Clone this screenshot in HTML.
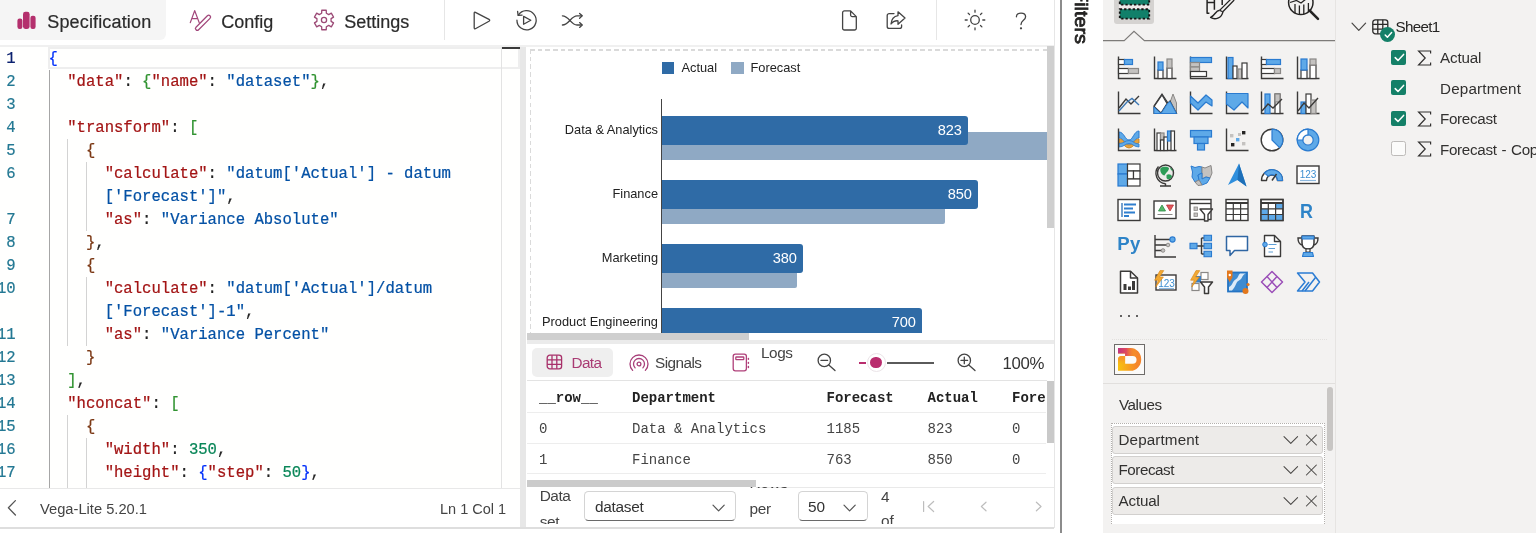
<!DOCTYPE html>
<html>
<head>
<meta charset="utf-8">
<title>Deneb editor</title>
<style>
*{box-sizing:border-box;margin:0;padding:0}
html,body{width:1536px;height:533px;overflow:hidden;background:#fff;font-family:"Liberation Sans",sans-serif;color:#252423}
.abs{position:absolute}
#root{position:relative;width:1536px;height:533px;overflow:hidden;background:#fff;will-change:transform}
.t{position:absolute;white-space:nowrap;line-height:1}
.ui{font-family:"Liberation Sans",sans-serif;color:#3b3a39}
.mono{font-family:"Liberation Mono",monospace}
svg{position:absolute;overflow:visible}
/* editor */
.ln{-webkit-text-stroke:0.2px;position:absolute;right:505.3px;text-align:right;font-family:"Liberation Mono",monospace;font-size:15.6px;line-height:23px;color:#237893;white-space:pre}
.cl{-webkit-text-stroke:0.22px;position:absolute;left:48.5px;font-family:"Liberation Mono",monospace;font-size:15.6px;line-height:23px;color:#222;white-space:pre}
.k{color:#a31515}.s{color:#0451a5}.n{color:#098658}.b1{color:#0431fa}.b2{color:#319331}.b3{color:#7b3814}
.guide{position:absolute;width:1px;background:#d3d3d3}
</style>
</head>
<body>
<div id="root">

<!-- ===== TOP TOOLBAR ===== -->
<div class="abs" style="left:0;top:0;width:166px;height:40px;background:#f5f5f5;border-radius:0 0 6px 0"></div>
<div class="abs" style="left:0;top:45px;width:1054px;height:2px;background:#f0f0f0"></div>
<div class="abs" style="left:444px;top:0;width:1px;height:40px;background:#e6e6e6"></div>
<div class="abs" style="left:936px;top:0;width:1px;height:40px;background:#e6e6e6"></div>
<!-- bar icon -->
<svg style="left:17px;top:11px" width="20" height="19" viewBox="0 0 20 19"><rect x="0.4" y="7.6" width="5" height="10.4" rx="2.2" fill="#b4306d"/><rect x="6" y="0.8" width="6.6" height="17.2" rx="2.4" fill="#b4306d"/><rect x="13.4" y="4.8" width="5.2" height="13.2" rx="2.2" fill="#b4306d"/></svg>
<div class="t ui" style="left:47.3px;top:13.2px;font-size:18px;letter-spacing:0.15px;color:#2b2b2b;-webkit-text-stroke:0.2px #2b2b2b" id="tSpec">Specification</div>
<div class="t ui" style="left:221.3px;top:13.2px;font-size:18px;color:#2b2b2b;-webkit-text-stroke:0.2px" id="tConf">Config</div>
<div class="t ui" style="left:344.3px;top:13.2px;font-size:18px;color:#2b2b2b;-webkit-text-stroke:0.2px" id="tSett">Settings</div>


<!-- config icon -->
<svg style="left:188px;top:8px" width="26" height="24" viewBox="0 0 26 24" fill="none" stroke="#a1467a" stroke-width="1.25" stroke-linecap="round" stroke-linejoin="round"><path d="M2.3 14.6 L6.7 2.6 L11.2 14.6 M3.9 10.6 L9.6 10.6"/><rect x="-9.9" y="-1.85" width="19.8" height="3.7" rx="1.85" transform="translate(15 14.8) rotate(-45)"/></svg>
<!-- gear icon -->
<svg style="left:313px;top:9.2px" width="22" height="22" viewBox="0 0 22 22" fill="none" stroke="#9c4a76" stroke-width="1.3" stroke-linejoin="round"><path d="M13.34 4.19 L13.25 1.26 L8.75 1.26 L8.66 4.19 L6.28 5.57 L3.69 4.18 L1.44 8.08 L3.93 9.63 L3.93 12.37 L1.44 13.92 L3.69 17.82 L6.28 16.43 L8.66 17.81 L8.75 20.74 L13.25 20.74 L13.34 17.81 L15.72 16.43 L18.31 17.82 L20.56 13.92 L18.07 12.37 L18.07 9.63 L20.56 8.08 L18.31 4.18 L15.72 5.57Z" stroke-width="1.3"/><circle cx="11" cy="11" r="2.6"/></svg>
<!-- play -->
<svg style="left:472px;top:10px" width="20" height="21" viewBox="0 0 20 21" fill="none" stroke="#444" stroke-width="1.3" stroke-linejoin="round"><path d="M3.4 2.3 L17 9.4 Q18.4 10.3 17 11.200 L3.400 18.700 Q2.2 19.100 2.2 17.800 L2.200 3.200 Q2.200 1.900 3.400 2.300 Z"/></svg>
<!-- replay -->
<svg style="left:515px;top:9px" width="24" height="23" viewBox="0 0 24 23" fill="none" stroke="#444" stroke-width="1.3" stroke-linecap="round" stroke-linejoin="round"><path d="M3.4 6.2 A9.6 9.6 0 1 1 1.95 11.2"/><path d="M2.6 2.4 L3.1 6.4 L7.1 6.1"/><path d="M8.6 7.4 L15.8 11.2 L8.6 15.2 Z"/></svg>
<!-- shuffle -->
<svg style="left:561px;top:11px" width="24" height="18" viewBox="0 0 24 18" fill="none" stroke="#444" stroke-width="1.3" stroke-linecap="round" stroke-linejoin="round"><path d="M1.4 4.8 C8 4.8 10 14 16 14 L20.8 14 M1.4 14 C8 14 10 4.8 16 4.8 L20.8 4.8"/><path d="M18.6 2.4 L21.2 4.8 L18.6 7.2 M18.6 11.600 L21.2 14 L18.6 16.400"/></svg>
<!-- doc -->
<svg style="left:841px;top:9px" width="18" height="23" viewBox="0 0 18 23" fill="none" stroke="#444" stroke-width="1.3" stroke-linejoin="round"><path d="M3.4 1.9 H9.6 L15.3 7.6 V19.2 a1.8 1.8 0 0 1 -1.8 1.8 H3.4 a1.8 1.8 0 0 1 -1.8 -1.8 V3.7 a1.8 1.8 0 0 1 1.8 -1.8 Z M9.6 1.9 V6 a1.6 1.6 0 0 0 1.6 1.6 H15.3"/></svg>
<!-- share -->
<svg style="left:885px;top:10px" width="23" height="21" viewBox="0 0 23 21" fill="none" stroke="#444" stroke-width="1.3" stroke-linecap="round" stroke-linejoin="round"><path d="M9 3.6 H4.2 a2 2 0 0 0 -2 2 V16.4 a2 2 0 0 0 2 2 H14.6 a2 2 0 0 0 2 -2 V15"/><path d="M13 1.8 L20 8 L13 14.2 V10.8 C10 10.6 7.6 11.6 6 14 C6.4 9.4 9 6.2 13 5.6 Z"/></svg>
<!-- sun -->
<svg style="left:963.7px;top:9.2px" width="22" height="22" viewBox="0 0 22 22" fill="none" stroke="#444" stroke-width="1.3" stroke-linecap="round"><circle cx="11" cy="11" r="4.3"/><path d="M11 1.2 V3.2 M11 18.8 V20.8 M1.2 11 H3.2 M18.8 11 H20.8 M4.1 4.1 L5.5 5.5 M16.5 16.5 L17.9 17.9 M4.1 17.9 L5.5 16.5 M16.5 5.5 L17.9 4.1"/></svg>
<!-- help -->
<svg style="left:1014px;top:11px" width="14" height="20" viewBox="0 0 14 20" fill="none" stroke="#444" stroke-width="1.3" stroke-linecap="round"><path d="M2.4 5.8 C2.4 1 11.6 1 11.6 5.8 C11.6 9.4 7 9.4 7 13.6"/><circle cx="7" cy="17.3" r="0.5" fill="#444"/></svg>

<!-- ===== EDITOR ===== -->
<div id="editor" class="abs" style="left:0;top:47px;width:521px;height:441px;overflow:hidden;background:#fffffe">
<!-- active line box -->
<div class="abs" style="left:48px;top:0px;width:472px;height:22px;border:2px solid #eeeeee"></div>
<!-- indent guides -->
<div class="guide" style="left:49px;top:22.5px;height:430px;background:#a6a6a6"></div>
<div class="guide" style="left:67px;top:91.5px;height:207px"></div>
<div class="guide" style="left:86px;top:114.5px;height:69px"></div>
<div class="guide" style="left:86px;top:229.5px;height:69px"></div>
<div class="guide" style="left:67px;top:367.5px;height:80px"></div>
<div class="guide" style="left:86px;top:390.5px;height:60px"></div>
<!-- overview ruler -->
<div class="abs" style="left:501px;top:0;width:1px;height:443px;background:#e3e3e3"></div>
<div class="abs" style="left:502px;top:-1px;width:18px;height:3px;background:#3a3a3a"></div>
<div class="ln" style="top:1.0px;color:#0b216f">1</div>
<div class="cl" style="top:1.0px"><span class="b1">{</span></div>
<div class="ln" style="top:24.0px">2</div>
<div class="cl" style="top:24.0px">  <span class="k">"data"</span>: <span class="b2">{</span><span class="k">"name"</span>: <span class="s">"dataset"</span><span class="b2">}</span>,</div>
<div class="ln" style="top:47.0px">3</div>
<div class="ln" style="top:70.0px">4</div>
<div class="cl" style="top:70.0px">  <span class="k">"transform"</span>: <span class="b2">[</span></div>
<div class="ln" style="top:93.0px">5</div>
<div class="cl" style="top:93.0px">    <span class="b3">{</span></div>
<div class="ln" style="top:116.0px">6</div>
<div class="cl" style="top:116.0px">      <span class="k">"calculate"</span>: <span class="s">"datum['Actual'] - datum</span></div>
<div class="cl" style="top:139.0px">      <span class="s">['Forecast']"</span>,</div>
<div class="ln" style="top:162.0px">7</div>
<div class="cl" style="top:162.0px">      <span class="k">"as"</span>: <span class="s">"Variance Absolute"</span></div>
<div class="ln" style="top:185.0px">8</div>
<div class="cl" style="top:185.0px">    <span class="b3">}</span>,</div>
<div class="ln" style="top:208.0px">9</div>
<div class="cl" style="top:208.0px">    <span class="b3">{</span></div>
<div class="ln" style="top:231.0px">10</div>
<div class="cl" style="top:231.0px">      <span class="k">"calculate"</span>: <span class="s">"datum['Actual']/datum</span></div>
<div class="cl" style="top:254.0px">      <span class="s">['Forecast']-1"</span>,</div>
<div class="ln" style="top:277.0px">11</div>
<div class="cl" style="top:277.0px">      <span class="k">"as"</span>: <span class="s">"Variance Percent"</span></div>
<div class="ln" style="top:300.0px">12</div>
<div class="cl" style="top:300.0px">    <span class="b3">}</span></div>
<div class="ln" style="top:323.0px">13</div>
<div class="cl" style="top:323.0px">  <span class="b2">]</span>,</div>
<div class="ln" style="top:346.0px">14</div>
<div class="cl" style="top:346.0px">  <span class="k">"hconcat"</span>: <span class="b2">[</span></div>
<div class="ln" style="top:369.0px">15</div>
<div class="cl" style="top:369.0px">    <span class="b3">{</span></div>
<div class="ln" style="top:392.0px">16</div>
<div class="cl" style="top:392.0px">      <span class="k">"width"</span>: <span class="n">350</span>,</div>
<div class="ln" style="top:415.0px">17</div>
<div class="cl" style="top:415.0px">      <span class="k">"height"</span>: <span class="b1">{</span><span class="k">"step"</span>: <span class="n">50</span><span class="b1">}</span>,</div>

</div>

<!-- ===== STATUS BAR ===== -->
<div class="abs" style="left:0;top:488px;width:521px;height:1px;background:#e8e8e8"></div>
<svg style="left:6px;top:499px" width="12" height="18" viewBox="0 0 12 18" fill="none" stroke="#555" stroke-width="1.3" stroke-linecap="round" stroke-linejoin="round"><path d="M9.4 1.6 L2.4 8.8 L9.4 16"/></svg>
<div class="t ui" style="left:40px;top:502px;font-size:14.7px;color:#444" id="tVega">Vega-Lite 5.20.1</div>
<div class="t ui" style="left:440px;top:502px;font-size:14.5px;color:#444" id="tLn">Ln 1 Col 1</div>
<div class="abs" style="left:0;top:527px;width:1054px;height:2px;background:#dedede"></div>


<!-- ===== SPLITTER ===== -->
<div class="abs" style="left:520px;top:47px;width:6.3px;height:480px;background:#e7e7e7"></div>

<!-- ===== PREVIEW ===== -->
<div id="preview" class="abs" style="left:526.5px;top:47px;width:520.5px;height:285.5px;overflow:hidden;background:#fff">
  <!-- coordinates inside are relative: subtract 526.5, 47 -->
  <div class="abs" style="left:3px;top:2px;width:600px;height:1.6px;background:repeating-linear-gradient(to right,#dadada 0 4.6px,transparent 4.6px 7.65px)"></div>
  <div class="abs" style="left:3px;top:2px;width:1.6px;height:400px;background:repeating-linear-gradient(to bottom,#dadada 0 4.6px,transparent 4.6px 7.65px)"></div>
  <!-- legend -->
  <div class="abs" style="left:135.2px;top:14.6px;width:12.8px;height:12.6px;background:#2f6ba6"></div>
  <div class="t" style="left:155px;top:14.7px;font-size:12.8px;color:#222" id="lgA">Actual</div>
  <div class="abs" style="left:204.5px;top:14.6px;width:12.8px;height:12.6px;background:#8fa9c4"></div>
  <div class="t" style="left:224px;top:14.7px;font-size:12.8px;color:#222" id="lgF">Forecast</div>
  <!-- forecast bars -->
  <div class="abs" style="left:135px;top:84.7px;width:440px;height:28px;background:#8fa9c4"></div>
  <div class="abs" style="left:135px;top:148.7px;width:283.5px;height:28px;background:#8fa9c4;border-radius:0 2px 2px 0"></div>
  <div class="abs" style="left:135px;top:212.7px;width:135.3px;height:28px;background:#8fa9c4;border-radius:0 2px 2px 0"></div>
  <!-- actual bars -->
  <div class="abs bar" style="left:135px;top:69px;width:306px;height:29px;background:#2f6ba6;border-radius:0 3px 3px 0"></div>
  <div class="abs bar" style="left:135px;top:133px;width:316px;height:29px;background:#2f6ba6;border-radius:0 3px 3px 0"></div>
  <div class="abs bar" style="left:135px;top:197px;width:141px;height:29px;background:#2f6ba6;border-radius:0 3px 3px 0"></div>
  <div class="abs bar" style="left:135px;top:261px;width:260px;height:29px;background:#2f6ba6;border-radius:0 3px 3px 0"></div>
  <!-- axis -->
  <div class="abs" style="left:134.5px;top:52px;width:1px;height:300px;background:#444"></div>
  <!-- y labels -->
  <div class="t" style="right:389px;top:77.1px;font-size:12.8px;color:#222">Data &amp; Analytics</div>
  <div class="t" style="right:389px;top:141.1px;font-size:12.8px;color:#222">Finance</div>
  <div class="t" style="right:389px;top:205.1px;font-size:12.8px;color:#222">Marketing</div>
  <div class="t" style="right:389px;top:269.1px;font-size:12.8px;color:#222">Product Engineering</div>
  <!-- value labels -->
  <div class="t" style="right:85px;top:75.5px;font-size:14.6px;color:#fff">823</div>
  <div class="t" style="right:75px;top:139.5px;font-size:14.6px;color:#fff">850</div>
  <div class="t" style="right:250px;top:203.5px;font-size:14.6px;color:#fff">380</div>
  <div class="t" style="right:131px;top:267.5px;font-size:14.6px;color:#fff">700</div>
</div>
<!-- preview scrollbars -->
<div class="abs" style="left:1047px;top:46px;width:6.5px;height:182px;background:#cfcfcf"></div>
<div class="abs" style="left:526.5px;top:332.5px;width:222px;height:7px;background:#cfcfcf"></div>
<div class="abs" style="left:526.5px;top:339.5px;width:527.5px;height:4.5px;background:#ebebeb"></div>

<!-- ===== DEBUG PANE ===== -->
<div class="abs" style="left:531.5px;top:348px;width:81px;height:29px;background:#efefef;border-radius:5px"></div>
<div class="t ui" style="left:571.5px;top:355px;font-size:15.3px;color:#a93b73;letter-spacing:-0.6px" id="tData">Data</div>
<div class="t ui" style="left:655px;top:355px;font-size:15.3px;color:#444;letter-spacing:-0.54px" id="tSig">Signals</div>
<div class="t ui" style="left:761px;top:345.3px;font-size:15.3px;color:#444;letter-spacing:-0.42px" id="tLogs">Logs</div>
<div class="t ui" style="left:1002.5px;top:356px;font-size:16.8px;color:#333;letter-spacing:-0.3px" id="tPct">100%</div>
<!-- debug pane icons -->
<svg style="left:546px;top:354.3px" width="17" height="16" viewBox="0 0 17 16" fill="none" stroke="#a8306a" stroke-width="1.3"><rect x="1.2" y="1.2" width="14.4" height="13.6" rx="2.6"/><path d="M6 1.2 V14.8 M10.8 1.2 V14.8 M1.2 5.8 H15.600 M1.2 10.300 H15.600"/></svg>
<svg style="left:628.600px;top:353.600px" width="20" height="18" viewBox="0 0 20 18" fill="none" stroke="#a8407a" stroke-width="1.300" stroke-linecap="round"><path d="M3.640 16.360 A9 9 0 1 1 16.360 16.360"/><path d="M6.110 13.890 A5.500 5.500 0 1 1 13.890 13.890"/><circle cx="10" cy="10" r="1.900"/></svg>
<svg style="left:731.500px;top:352.700px" width="18" height="19" viewBox="0 0 18 19" fill="none" stroke="#b0407a" stroke-width="1.300" stroke-linecap="round"><rect x="1.200" y="1.200" width="13.200" height="16.600" rx="2.200"/><rect x="3.800" y="4" width="8" height="2.600" rx="0.600"/><path d="M16.400 5.400 V6.200 M16.400 9.500 V10.300 M16.400 13.600 V14.400" stroke-width="1.500"/></svg>
<svg style="left:817px;top:353px" width="20" height="19" viewBox="0 0 20 19" fill="none" stroke="#444" stroke-width="1.300" stroke-linecap="round"><circle cx="7.300" cy="7.400" r="6.200"/><path d="M11.800 12 L18 17.600 M4 7.400 H10.600"/></svg>
<svg style="left:956.500px;top:353px" width="20" height="19" viewBox="0 0 20 19" fill="none" stroke="#444" stroke-width="1.300" stroke-linecap="round"><circle cx="7.300" cy="7.400" r="6.200"/><path d="M11.800 12 L18 17.600 M4 7.400 H10.600 M7.300 4.100 V10.700"/></svg>
<!-- slider -->
<div class="abs" style="left:858.5px;top:361.8px;width:7px;height:2px;background:#b92d6e"></div>
<div class="abs" style="left:886.5px;top:361.8px;width:47.5px;height:2px;background:#5a5a5a"></div>
<div class="abs" style="left:866.5px;top:353.1px;width:19px;height:19px;border-radius:50%;background:#fff;border:1px solid #ebe4e8"></div>
<div class="abs" style="left:870.2px;top:356.8px;width:11.6px;height:11.6px;border-radius:50%;background:#b92d6e"></div>
<div class="abs" style="left:526.5px;top:380px;width:520.5px;height:1px;background:#e3e3e3"></div>

<!-- table -->
<div id="tbl" class="abs mono" style="left:526.5px;top:381px;width:519.3px;height:98.5px;overflow:hidden;font-size:14px;color:#444">
  <div class="t" style="left:12.5px;top:9.5px;font-weight:bold;color:#222">__row__</div>
  <div class="t" style="left:105.5px;top:9.5px;font-weight:bold;color:#222">Department</div>
  <div class="t" style="left:300px;top:9.5px;font-weight:bold;color:#222">Forecast</div>
  <div class="t" style="left:401px;top:9.5px;font-weight:bold;color:#222">Actual</div>
  <div class="t" style="left:485.5px;top:9.5px;font-weight:bold;color:#222">Forecast - Copy</div>
  <div class="abs" style="left:0;top:30.8px;width:521px;height:1px;background:#ededed"></div>
  <div class="t" style="left:12.5px;top:41px">0</div>
  <div class="t" style="left:105.5px;top:41px">Data &amp; Analytics</div>
  <div class="t" style="left:300px;top:41px">1185</div>
  <div class="t" style="left:401px;top:41px">823</div>
  <div class="t" style="left:485.5px;top:41px">0</div>
  <div class="abs" style="left:0;top:61.8px;width:521px;height:1px;background:#ededed"></div>
  <div class="t" style="left:12.5px;top:71.5px">1</div>
  <div class="t" style="left:105.5px;top:71.5px">Finance</div>
  <div class="t" style="left:300px;top:71.5px">763</div>
  <div class="t" style="left:401px;top:71.5px">850</div>
  <div class="t" style="left:485.5px;top:71.5px">0</div>
  <div class="abs" style="left:0;top:91.8px;width:521px;height:1px;background:#ededed"></div>
</div>
<div class="abs" style="left:1047px;top:381px;width:6.5px;height:62px;background:#c9c9c9"></div>
<div class="abs" style="left:526.5px;top:479.5px;width:229.5px;height:7.5px;background:#cbcbcb"></div>
<div class="abs" style="left:756px;top:486.5px;width:298px;height:1px;background:#e9e9e9"></div>

<!-- footer -->
<div id="foot" class="abs ui" style="left:526.5px;top:487px;width:527.5px;height:37px;overflow:hidden;font-size:15.4px;color:#444">
  <div class="t" style="left:13.2px;top:1.2px;letter-spacing:-0.45px">Data</div>
  <div class="t" style="left:13.2px;top:26.6px;letter-spacing:-0.3px">set</div>
  <div class="abs" style="left:57px;top:3.7px;width:152px;height:30.8px;border:1px solid #d4d4d4;border-bottom-color:#6a6a6a;border-radius:4.5px;background:#fff"></div>
  <div class="t" style="left:68.5px;top:11.8px;color:#333;letter-spacing:-0.28px">dataset</div>
  <svg style="left:185px;top:16.5px" width="14" height="9" viewBox="0 0 14 9" fill="none" stroke="#555" stroke-width="1.2" stroke-linecap="round" stroke-linejoin="round"><path d="M1 1.2 L6.6 6.9 L12.2 1.2"/></svg>
  <div class="t" style="left:223px;top:-12.4px">Rows</div>
  <div class="t" style="left:223px;top:14px;letter-spacing:-0.35px">per</div>
  <div class="abs" style="left:271.5px;top:3.7px;width:70px;height:30.8px;border:1px solid #d4d4d4;border-bottom-color:#6a6a6a;border-radius:4.5px;background:#fff"></div>
  <div class="t" style="left:281.5px;top:11.8px;color:#333">50</div>
  <svg style="left:316.5px;top:16.5px" width="14" height="9" viewBox="0 0 14 9" fill="none" stroke="#555" stroke-width="1.2" stroke-linecap="round" stroke-linejoin="round"><path d="M1 1.2 L6.6 6.9 L12.2 1.2"/></svg>
  <div class="t" style="left:354.5px;top:1.6px">4</div>
  <div class="t" style="left:354.5px;top:26.3px">of</div>
  <svg style="left:395px;top:13px" width="14" height="13" viewBox="0 0 14 13" fill="none" stroke="#bdbdbd" stroke-width="1.2" stroke-linecap="round" stroke-linejoin="round"><path d="M1.6 1.5 V11.5 M11.6 1.5 L6.2 6.5 L11.6 11.5"/></svg>
  <svg style="left:452px;top:13px" width="10" height="13" viewBox="0 0 10 13" fill="none" stroke="#bdbdbd" stroke-width="1.2" stroke-linecap="round" stroke-linejoin="round"><path d="M7 2.2 L2.4 6.5 L7 10.8"/></svg>
  <svg style="left:507px;top:13px" width="10" height="13" viewBox="0 0 10 13" fill="none" stroke="#bdbdbd" stroke-width="1.2" stroke-linecap="round" stroke-linejoin="round"><path d="M2.4 2.2 L7 6.5 L2.4 10.8"/></svg>
</div>


<!-- ===== RIGHT: borders / filters strip ===== -->
<div class="abs" style="left:1054px;top:0;width:1px;height:528px;background:#e6e6e6"></div>
<div class="abs" style="left:1060px;top:0;width:2px;height:533px;background:#8c8c8c"></div>
<div class="abs" style="left:1062px;top:0;width:41px;height:533px;background:#fff"></div>
<div class="t" id="tFilt" style="left:1090.6px;top:-9.6px;font-size:19px;-webkit-text-stroke:0.8px #252423;color:#252423;transform-origin:0 0;transform:rotate(90deg) scaleX(1.045)">Filters</div>

<!-- ===== VISUALIZATIONS PANE ===== -->
<div id="viz" class="abs" style="left:1103px;top:0;width:232px;height:533px;background:#f3f2f1;overflow:hidden">
  <!-- coords relative: subtract 1103 -->
  <div class="abs" style="left:11px;top:-4px;width:40px;height:27.6px;background:#d5d3d1;border-radius:3px"></div>
  
  <svg style="left:14px;top:-8px" width="36" height="30" viewBox="0 0 36 30"><rect x="2" y="12.8" width="31" height="4" fill="#efe9e9"/><rect x="2.8" y="-1" width="29.4" height="13.6" fill="#11806a" stroke="#141414" stroke-width="1.9" stroke-dasharray="2.3 2"/><rect x="2.8" y="17.200" width="29.400" height="9.400" fill="#11806a" stroke="#141414" stroke-width="1.900" stroke-dasharray="2.300 2"/></svg>
  <!-- tab underline with caret -->
  <svg style="left:0;top:30px" width="232" height="12" viewBox="0 0 232 12" fill="none" stroke="#7d7b79" stroke-width="1.2"><path d="M0 10.6 H21.2 L31 1.4 L41.4 10.6 H232"/></svg>
  <!-- format (paintbrush) icon -->
  <svg style="left:97px;top:0px" width="40" height="24" viewBox="0 0 40 24" fill="none" stroke="#252423" stroke-width="1.5" stroke-linecap="butt" stroke-linejoin="round"><path d="M7.1 -1 V13.2 H9.400 M7.1 2.4 H14.4 M14.4 -1 V9.8 M22.2 -1 V4.9"/><path d="M31 -1 L19.600 10.400 M34.200 0 L22.800 11.800" stroke-width="1.3"/><path d="M19.6 10.2 C15.500 10.600 15.200 15.200 10.600 17.500 C15 20 21.500 18.500 22.900 11.800" stroke-width="1.400"/><path d="M19.600 10.400 L22.800 11.800" stroke-width="1.200"/></svg>
  <!-- analytics (magnifier) icon -->
  <svg style="left:177px;top:0px" width="44" height="24" viewBox="0 0 44 24" fill="none" stroke="#252423" stroke-width="1.5" stroke-linecap="butt"><circle cx="20.8" cy="2.4" r="12.2"/><path d="M29.600 10.500 L38 18.800" stroke-width="2.500" stroke-linecap="round"/><path d="M15 4 V13.200 M19.400 5.400 V14.600 M23.800 4.600 V14.400 M28.400 3 V12" stroke-width="1.300"/><path d="M10 2.500 L16.500 0.500 L21 3 L26 -1" stroke-width="1.300"/></svg>

  <!-- ICONS-START -->
  <svg class="vi" style="left:13.8px;top:55.8px" width="24" height="24" viewBox="0 0 24 24"><path d="M1.5 0.5 V22.5 H23.5" fill="none" stroke="#3b3a39" stroke-width="1.4"/><rect x="1.5" y="3.5" width="6" height="5" fill="#ffffff" stroke="#3b3a39" stroke-width="1.2"/><rect x="7.5" y="3.5" width="8" height="5" fill="#5ea9e8" stroke="#2a7bd0" stroke-width="1.2"/><rect x="1.5" y="12.5" width="10" height="5" fill="#ffffff" stroke="#3b3a39" stroke-width="1.2"/><rect x="11.5" y="12.5" width="10" height="5" fill="#c4c2c0" stroke="#8a8886" stroke-width="1.2"/></svg>
  <svg class="vi" style="left:49.7px;top:55.8px" width="24" height="24" viewBox="0 0 24 24"><path d="M1.5 0.5 V22.5 H23.5" fill="none" stroke="#3b3a39" stroke-width="1.4"/><rect x="5" y="14" width="5" height="8.5" fill="#ffffff" stroke="#3b3a39" stroke-width="1.2"/><rect x="5" y="6" width="5" height="8" fill="#5ea9e8" stroke="#2a7bd0" stroke-width="1.2"/><rect x="14" y="12" width="5" height="10.5" fill="#ffffff" stroke="#3b3a39" stroke-width="1.2"/><rect x="14" y="3" width="5" height="9" fill="#c4c2c0" stroke="#8a8886" stroke-width="1.2"/></svg>
  <svg class="vi" style="left:85.6px;top:55.8px" width="24" height="24" viewBox="0 0 24 24"><path d="M1.5 0.5 V22.5 H23.5" fill="none" stroke="#3b3a39" stroke-width="1.4"/><rect x="1.5" y="1.5" width="21" height="5" fill="#5ea9e8" stroke="#2a7bd0" stroke-width="1.2"/><rect x="1.5" y="6.5" width="9" height="4.5" fill="#c4c2c0" stroke="#8a8886" stroke-width="1.2"/><rect x="1.5" y="11" width="9" height="4.5" fill="#c4c2c0" stroke="#8a8886" stroke-width="1.2"/><rect x="1.5" y="15.5" width="16" height="5" fill="#ffffff" stroke="#3b3a39" stroke-width="1.2"/></svg>
  <svg class="vi" style="left:121.5px;top:55.8px" width="24" height="24" viewBox="0 0 24 24"><path d="M1.5 0.5 V22.5 H23.5" fill="none" stroke="#3b3a39" stroke-width="1.4"/><rect x="3" y="1.5" width="5" height="21" fill="#5ea9e8" stroke="#2a7bd0" stroke-width="1.2"/><rect x="8" y="10" width="4" height="12.5" fill="#ffffff" stroke="#3b3a39" stroke-width="1.2"/><rect x="13" y="13" width="4" height="9.5" fill="#c4c2c0" stroke="#8a8886" stroke-width="1.2"/><rect x="17" y="7" width="5" height="15.5" fill="#ffffff" stroke="#3b3a39" stroke-width="1.2"/></svg>
  <svg class="vi" style="left:157.4px;top:55.8px" width="24" height="24" viewBox="0 0 24 24"><path d="M1.5 0.5 V22.5 H23.5" fill="none" stroke="#3b3a39" stroke-width="1.4"/><rect x="1.5" y="3.5" width="5" height="5" fill="#ffffff" stroke="#3b3a39" stroke-width="1.2"/><rect x="6.5" y="3.5" width="14" height="5" fill="#5ea9e8" stroke="#2a7bd0" stroke-width="1.2"/><rect x="1.5" y="12.5" width="13" height="5" fill="#ffffff" stroke="#3b3a39" stroke-width="1.2"/><rect x="14.5" y="12.5" width="6" height="5" fill="#c4c2c0" stroke="#8a8886" stroke-width="1.2"/></svg>
  <svg class="vi" style="left:193.3px;top:55.8px" width="24" height="24" viewBox="0 0 24 24"><path d="M1.5 0.5 V22.5 H23.5" fill="none" stroke="#3b3a39" stroke-width="1.4"/><rect x="5" y="14" width="6" height="8.5" fill="#ffffff" stroke="#3b3a39" stroke-width="1.2"/><rect x="5" y="3" width="6" height="11" fill="#5ea9e8" stroke="#2a7bd0" stroke-width="1.2"/><rect x="14" y="9" width="6" height="13.5" fill="#ffffff" stroke="#3b3a39" stroke-width="1.2"/><rect x="14" y="3" width="6" height="6" fill="#c4c2c0" stroke="#8a8886" stroke-width="1.2"/></svg>
  <svg class="vi" style="left:13.8px;top:91.4px" width="24" height="24" viewBox="0 0 24 24"><path d="M1.5 0.5 V22.5 H23.5" fill="none" stroke="#3b3a39" stroke-width="1.4"/><path d="M2 17 L9 8 L14 13 L22 5" fill="none" stroke="#3b3a39" stroke-width="1.4"/><path d="M2 20 L10 11 L15 7.5 L22 14" fill="none" stroke="#3c78b4" stroke-width="1.4"/></svg>
  <svg class="vi" style="left:49.7px;top:91.4px" width="24" height="24" viewBox="0 0 24 24"><path d="M13 22.5 L20 3 L23.5 12 V22.5 Z" fill="#c4c2c0" stroke="#8a8886" stroke-width="1"/><path d="M1 22.5 V15 L9 3 L15 12 L17 10 L23.5 22.5 Z" fill="#5ea9e8" stroke="#3b3a39" stroke-width="1.2"/><path d="M1.5 15 L9 4 L14 12.5 L8 22 L1.5 16 Z" fill="#fff" stroke="#3b3a39" stroke-width="1.2" stroke-linejoin="round"/><path d="M1 22.5 V16 L8 22.5 Z M8 22.5 L14.5 12.5 L17 10.5 L23.5 22.5 Z" fill="#5ea9e8" stroke="#2a7bd0" stroke-width="1"/></svg>
  <svg class="vi" style="left:85.6px;top:91.4px" width="24" height="24" viewBox="0 0 24 24"><path d="M1.5 0.5 V22.5 H23.5" fill="none" stroke="#3b3a39" stroke-width="1.4"/><path d="M1.5 5 L9 12 L17 4 L23 9 V15 L17 11 L9 19 L1.5 12 Z" fill="#5ea9e8" stroke="#2a7bd0" stroke-width="1.2" stroke-linejoin="round"/></svg>
  <svg class="vi" style="left:121.5px;top:91.4px" width="24" height="24" viewBox="0 0 24 24"><path d="M1.5 0.5 V22.5 H23.5" fill="none" stroke="#3b3a39" stroke-width="1.4"/><path d="M1.5 2.5 H23 V17 L17 11 L9 19 L1.5 13 Z" fill="#5ea9e8" stroke="#2a7bd0" stroke-width="1.2" stroke-linejoin="round"/></svg>
  <svg class="vi" style="left:157.4px;top:91.4px" width="24" height="24" viewBox="0 0 24 24"><path d="M1.5 0.5 V22.5 H23.5" fill="none" stroke="#3b3a39" stroke-width="1.4"/><rect x="5" y="3" width="5" height="19.5" fill="#5ea9e8" stroke="#2a7bd0" stroke-width="1.2"/><rect x="15" y="3" width="5" height="19.5" fill="#ffffff" stroke="#3b3a39" stroke-width="1.2"/><rect x="15" y="3" width="5" height="8" fill="#c4c2c0" stroke="#8a8886" stroke-width="1.2"/><path d="M2 20 L8 13 L13 17 L22 8" fill="none" stroke="#3b3a39" stroke-width="1.4"/></svg>
  <svg class="vi" style="left:193.3px;top:91.4px" width="24" height="24" viewBox="0 0 24 24"><path d="M1.5 0.5 V22.5 H23.5" fill="none" stroke="#3b3a39" stroke-width="1.4"/><rect x="5" y="11" width="5" height="11.5" fill="#5ea9e8" stroke="#2a7bd0" stroke-width="1.2"/><rect x="10" y="3" width="5" height="19.5" fill="#ffffff" stroke="#3b3a39" stroke-width="1.2"/><rect x="15" y="9" width="5" height="13.5" fill="#c4c2c0" stroke="#8a8886" stroke-width="1.2"/><path d="M2 20 L8 12 L13 17 L22 7" fill="none" stroke="#3b3a39" stroke-width="1.4"/></svg>
  <svg class="vi" style="left:13.8px;top:127.6px" width="24" height="24" viewBox="0 0 24 24"><path d="M2 4 C7 4 8 12 12 12 C16 12 17 3 22 3 V10 C17 10 16 18 12 18 C8 18 7 10 2 10 Z" fill="#5ea9e8" stroke="#2a7bd0" stroke-width="1"/><path d="M2 11 C7 11 8 17 12 17 C16 17 17 11 22 11 V15 C17 15 16 20 12 20 C8 20 7 15 2 15 Z" fill="#e6a441" stroke="#c77f1a" stroke-width="0.8"/><path d="M2 15.5 C7 15.5 8 12.5 12 12.5 C16 12.5 17 16 22 16 V19 C17 19 16 15.5 12 15.5 C8 15.5 7 19 2 19 Z" fill="#5ea9e8" stroke="#2a7bd0" stroke-width="0.8"/><path d="M1.5 0.5 V22.5 H23.5" fill="none" stroke="#3b3a39" stroke-width="1.4"/></svg>
  <svg class="vi" style="left:49.7px;top:127.6px" width="24" height="24" viewBox="0 0 24 24"><path d="M1.5 0.5 V22.5 H23.5" fill="none" stroke="#3b3a39" stroke-width="1.4"/><rect x="4" y="5" width="3.5" height="17.5" fill="#ffffff" stroke="#3b3a39" stroke-width="1.2"/><rect x="7.5" y="5" width="3.5" height="7" fill="#c4c2c0" stroke="#8a8886" stroke-width="1.2"/><rect x="7.5" y="12" width="3.5" height="10.5" fill="#ffffff" stroke="#3b3a39" stroke-width="1.2"/><rect x="11" y="9" width="3.5" height="13.5" fill="#ffffff" stroke="#3b3a39" stroke-width="1.2"/><rect x="14.5" y="3" width="3.5" height="10" fill="#5ea9e8" stroke="#2a7bd0" stroke-width="1.2"/><rect x="18" y="3" width="3.5" height="19.5" fill="#ffffff" stroke="#3b3a39" stroke-width="1.2"/></svg>
  <svg class="vi" style="left:85.6px;top:127.6px" width="24" height="24" viewBox="0 0 24 24"><rect x="1.5" y="2.5" width="21" height="6.5" fill="#5ea9e8" stroke="#2a7bd0" stroke-width="1.2"/><rect x="5" y="9" width="14" height="6.5" fill="#5ea9e8" stroke="#2a7bd0" stroke-width="1.2"/><rect x="8.5" y="15.5" width="7" height="6.5" fill="#5ea9e8" stroke="#2a7bd0" stroke-width="1.2"/></svg>
  <svg class="vi" style="left:121.5px;top:127.6px" width="24" height="24" viewBox="0 0 24 24"><path d="M1.5 0.5 V22.5 H23.5" fill="none" stroke="#3b3a39" stroke-width="1.4"/><rect x="5" y="6" width="3.4" height="3.4" fill="#c4c2c0"/><rect x="11" y="10" width="3.4" height="3.4" fill="#5ea9e8"/><rect x="17" y="3" width="3.4" height="3.4" fill="#252423"/><rect x="6" y="15" width="3.4" height="3.4" fill="#252423"/><rect x="13" y="5" width="3" height="3" fill="#c4c2c0"/><rect x="17" y="14" width="3.4" height="3.4" fill="#c4c2c0"/></svg>
  <svg class="vi" style="left:157.4px;top:127.6px" width="24" height="24" viewBox="0 0 24 24"><circle cx="12" cy="12" r="10.8" fill="#fff" stroke="#3b3a39" stroke-width="1.4"/><path d="M12 1.2 A10.8 10.8 0 0 1 19.6 19.6 L12 12 Z" fill="#5ea9e8" stroke="#2a7bd0" stroke-width="1.2" stroke-linejoin="round"/></svg>
  <svg class="vi" style="left:193.3px;top:127.6px" width="24" height="24" viewBox="0 0 24 24"><circle cx="12" cy="12" r="8" fill="none" stroke="#5ea9e8" stroke-width="5.6"/><circle cx="12" cy="12" r="10.8" fill="none" stroke="#2a7bd0" stroke-width="1.2"/><circle cx="12" cy="12" r="5.2" fill="#f3f2f1" stroke="#2a7bd0" stroke-width="1.2"/><path d="M1.2 12 A10.8 10.8 0 0 1 12 1.2 V6.8 A5.2 5.2 0 0 0 6.8 12 Z" fill="#fff" stroke="#2a7bd0" stroke-width="1.2"/></svg>
  <svg class="vi" style="left:13.8px;top:163.2px" width="24" height="24" viewBox="0 0 24 24"><rect x="1" y="1" width="9.5" height="10" fill="#5ea9e8" stroke="#2a7bd0" stroke-width="1.2"/><rect x="1" y="11" width="9.5" height="12" fill="#5ea9e8" stroke="#2a7bd0" stroke-width="1.2"/><rect x="10.5" y="1" width="12.5" height="7" fill="#ffffff" stroke="#3b3a39" stroke-width="1.2"/><rect x="10.5" y="8" width="6" height="8" fill="#ffffff" stroke="#3b3a39" stroke-width="1.2"/><rect x="16.5" y="8" width="6.5" height="8" fill="#ffffff" stroke="#3b3a39" stroke-width="1.2"/><rect x="10.5" y="16" width="12.5" height="7" fill="#ffffff" stroke="#3b3a39" stroke-width="1.2"/></svg>
  <svg class="vi" style="left:49.7px;top:163.2px" width="24" height="24" viewBox="0 0 24 24"><circle cx="12.5" cy="10" r="8" fill="#ecebea" stroke="#3b3a39" stroke-width="1.4"/><path d="M7.5 5 C10 3.500 14 3 16 5 C16 8 13 9.500 11.500 12.500 C9 12 6.500 9 7.500 5 Z M13.500 12 C15.500 10.500 18.500 11.500 19 13.500 C17.500 16.500 14.500 17 13.500 15 Z M17 4.500 C18.500 5 19.500 6.500 20 8 C18.500 8 17.500 6.500 17 4.500 Z" fill="#2c9c57"/><path d="M5.5 3.5 A10.5 10.5 0 0 0 12.5 20.8" fill="none" stroke="#3b3a39" stroke-width="1.4"/><path d="M12.5 20.5 V22.5 M7 23 H18" stroke="#3b3a39" stroke-width="1.4"/></svg>
  <svg class="vi" style="left:85.6px;top:163.2px" width="24" height="24" viewBox="0 0 24 24"><path d="M2 3 L6 4.5 L10 3.5 L13 4 L13 10 L9 12 L10 17 L6 19 L3 14 L3.5 9 Z" fill="#5ea9e8" stroke="#2a7bd0" stroke-width="1"/><path d="M13 4 L16 5 L22 2.5 L23 10 L21 15 L17 14 L13 16 L13 10 Z" fill="#c4c2c0" stroke="#8a8886" stroke-width="1"/><path d="M9 12 L13 10 L13 16 L17 14 L21 15 L18 20 L13 22 L10 17 Z" fill="#5ea9e8" stroke="#2a7bd0" stroke-width="1"/><path d="M6 19 L10 17 L13 22 L9 22.5 Z" fill="#c4c2c0" stroke="#8a8886" stroke-width="1"/></svg>
  <svg class="vi" style="left:121.5px;top:163.2px" width="24" height="24" viewBox="0 0 24 24"><path d="M14 0.5 L21.5 23.5 L12.5 17 L3 22 Z" fill="#2f8fdd"/><path d="M14 0.5 L21.5 23.5 L12.5 17 Z" fill="#1d6fb8"/></svg>
  <svg class="vi" style="left:157.4px;top:163.2px" width="24" height="24" viewBox="0 0 24 24"><path d="M1.5 17.5 A10.5 10.5 0 0 1 22.5 17.5 H17.5 A5.5 5.5 0 0 0 6.500 17.5 Z" fill="#fff" stroke="#3b3a39" stroke-width="1.4" stroke-linejoin="round"/><path d="M4.4 10 A10.5 10.5 0 0 1 22.5 17.5 H17.5 A5.5 5.5 0 0 0 8.3 13.2 Z" fill="#5ea9e8" stroke="#2a7bd0" stroke-width="1.1"/><path d="M12 17.5 L16.5 11" stroke="#3b3a39" stroke-width="1.5"/></svg>
  <svg class="vi" style="left:193.3px;top:163.2px" width="24" height="24" viewBox="0 0 24 24"><rect x="1" y="3" width="22" height="17.5" fill="#ffffff" stroke="#3b3a39" stroke-width="1.4"/><text x="12" y="15" font-family="Liberation Sans" font-size="10" text-anchor="middle" fill="#3d8fd1">123</text><path d="M4 17.5 H20" stroke="#8cb8de" stroke-width="1.2"/></svg>
  <svg class="vi" style="left:13.8px;top:198.3px" width="24" height="24" viewBox="0 0 24 24"><rect x="1" y="1.5" width="22" height="21" fill="#ffffff" stroke="#3b3a39" stroke-width="1.4"/><path d="M5 5 V19" stroke="#2a6fb5" stroke-width="1.3"/><path d="M7 6.5 H19 M7 10.5 H16 M7 14.5 H18 M7 18 H12" stroke="#2f7fcf" stroke-width="1.8"/></svg>
  <svg class="vi" style="left:49.7px;top:198.3px" width="24" height="24" viewBox="0 0 24 24"><rect x="1" y="3" width="22" height="17.5" fill="#ffffff" stroke="#3b3a39" stroke-width="1.4"/><path d="M5.5 13 L9 7 L12.500 13 Z" fill="#57b96a" stroke="#2c8b44" stroke-width="0.8"/><path d="M13.5 7 H20.500 L17 13 Z" fill="#e2565b" stroke="#b83238" stroke-width="0.8"/><path d="M4.5 16.500 H19.5" stroke="#8a8886" stroke-width="1"/></svg>
  <svg class="vi" style="left:85.6px;top:198.3px" width="24" height="24" viewBox="0 0 24 24"><rect x="1" y="1.5" width="21" height="20" fill="#ffffff" stroke="#3b3a39" stroke-width="1.4"/><path d="M1 5.500 H22" stroke="#3b3a39" stroke-width="1.4"/><rect x="5" y="9" width="3.4" height="3.4" fill="#c4c2c0" stroke="#8a8886" stroke-width="0.8"/><rect x="5" y="15" width="3.4" height="3.4" fill="#c4c2c0" stroke="#8a8886" stroke-width="0.8"/><path d="M11 11 H23.5 L19 16.500 V23 H15.500 V16.500 Z" fill="#fff" stroke="#3b3a39" stroke-width="1.4" stroke-linejoin="round"/></svg>
  <svg class="vi" style="left:121.5px;top:198.3px" width="24" height="24" viewBox="0 0 24 24"><rect x="1" y="1.5" width="22" height="21" fill="#ffffff" stroke="#3b3a39" stroke-width="1.4"/><path d="M1 5 H23" stroke="#3b3a39" stroke-width="2"/><path d="M1 10.8 H23 M1 16.500 H23 M8.300 5 V22.500 M15.600 5 V22.500" stroke="#3b3a39" stroke-width="1.2"/></svg>
  <svg class="vi" style="left:157.4px;top:198.3px" width="24" height="24" viewBox="0 0 24 24"><rect x="1" y="1.5" width="22" height="21" fill="#ffffff" stroke="#3b3a39" stroke-width="1.4"/><rect x="1" y="10.8" width="7.3" height="11.7" fill="#5ea9e8" stroke="#2a7bd0" stroke-width="0"/><rect x="8.3" y="16.5" width="14.7" height="6" fill="#5ea9e8" stroke="#2a7bd0" stroke-width="0"/><rect x="15.6" y="5" width="7.4" height="5.8" fill="#5ea9e8" stroke="#2a7bd0" stroke-width="0"/><path d="M1 5 H23" stroke="#3b3a39" stroke-width="2"/><path d="M1 10.8 H23 M1 16.500 H23 M8.300 5 V22.500 M15.600 5 V22.500" stroke="#3b3a39" stroke-width="1.2"/><rect x="1" y="1.5" width="22" height="21" fill="none" stroke="#3b3a39" stroke-width="1.4"/></svg>
  <svg class="vi" style="left:193.3px;top:198.3px" width="24" height="24" viewBox="0 0 24 24"><text x="10.400" y="19.600" font-family="Liberation Sans" font-weight="bold" font-size="19.500" text-anchor="middle" fill="#2e84c8" transform="translate(10.4 0) scale(0.92 1) translate(-10.4 0)">R</text></svg>
  <svg class="vi" style="left:13.8px;top:234.4px" width="24" height="24" viewBox="0 0 24 24"><text x="12" y="15.600" font-family="Liberation Sans" font-weight="bold" font-size="18.600" text-anchor="middle" fill="#2e84c8" letter-spacing="0.3">Py</text></svg>
  <svg class="vi" style="left:49.7px;top:234.4px" width="24" height="24" viewBox="0 0 24 24"><path d="M2 1 V23 H23" fill="none" stroke="#3b3a39" stroke-width="1.4"/><path d="M2 5.5 H18 M2 11 H14 M2 16.5 H9" stroke="#3b3a39" stroke-width="1.3"/><circle cx="19.500" cy="5.500" r="2.600" fill="#5ea9e8" stroke="#2a7bd0" stroke-width="1.1"/><circle cx="15" cy="11" r="1.800" fill="#c4c2c0" stroke="#8a8886" stroke-width="0.9"/><circle cx="10" cy="16.500" r="1.800" fill="#c4c2c0" stroke="#8a8886" stroke-width="0.9"/></svg>
  <svg class="vi" style="left:85.6px;top:234.4px" width="24" height="24" viewBox="0 0 24 24"><path d="M8 12 H12.5 M12.5 4 V20 M12.5 4 H15 M12.5 12 H15 M12.5 20 H15" fill="none" stroke="#3b3a39" stroke-width="1.4"/><rect x="1" y="9.3" width="7" height="5.4" fill="#5ea9e8" stroke="#2a7bd0" stroke-width="1.1"/><rect x="15" y="1.3" width="7.5" height="5.4" fill="#5ea9e8" stroke="#2a7bd0" stroke-width="1.1"/><rect x="15" y="9.3" width="7.5" height="5.4" fill="#5ea9e8" stroke="#2a7bd0" stroke-width="1.1"/><rect x="15" y="17.3" width="7.5" height="5.4" fill="#5ea9e8" stroke="#2a7bd0" stroke-width="1.1"/></svg>
  <svg class="vi" style="left:121.5px;top:234.4px" width="24" height="24" viewBox="0 0 24 24"><path d="M1.500 2.500 H22.500 V16.500 H9.500 L5 21.500 V16.500 H1.500 Z" fill="#fff" stroke="#2f66a3" stroke-width="1.5" stroke-linejoin="round"/></svg>
  <svg class="vi" style="left:157.4px;top:234.4px" width="24" height="24" viewBox="0 0 24 24"><path d="M4.500 1.500 H14.500 L20.500 7.500 V22.500 H4.500 Z" fill="#fff" stroke="#3b3a39" stroke-width="1.4" stroke-linejoin="round"/><path d="M14.500 1.500 V7.500 H20.500" fill="none" stroke="#3b3a39" stroke-width="1.4" stroke-linejoin="round"/><path d="M8.500 10.500 H16.500 M8.500 14.500 H15 M8.500 18 H13" stroke="#5e9fd6" stroke-width="1.200"/><circle cx="5" cy="10.500" r="2.300" fill="#5ea9e8" stroke="#2a7bd0" stroke-width="1"/></svg>
  <svg class="vi" style="left:193.3px;top:234.4px" width="24" height="24" viewBox="0 0 24 24"><path d="M6 2 H18 V9 C18 13 15.500 15 12 15 C8.500 15 6 13 6 9 Z" fill="#fff" stroke="#3b3a39" stroke-width="1.500" stroke-linejoin="round"/><path d="M6 4 H2 C2 8 3.500 10.500 6.500 11 M18 4 H22 C22 8 20.500 10.500 17.500 11" fill="none" stroke="#3b3a39" stroke-width="1.400"/><path d="M6 2 H18 V5 H6 Z" fill="#5ea9e8" stroke="#2a7bd0" stroke-width="1"/><path d="M10 15 H14 V18 H10 Z" fill="#fff" stroke="#3b3a39" stroke-width="1.200"/><path d="M7.500 18.500 H16.500 L17.500 22.500 H6.500 Z" fill="#5ea9e8" stroke="#2a7bd0" stroke-width="1.100" stroke-linejoin="round"/></svg>
  <svg class="vi" style="left:13.8px;top:269.7px" width="24" height="24" viewBox="0 0 24 24"><path d="M3.500 1.200 H13.500 L20.500 8 V23 H3.500 Z" fill="#fff" stroke="#3b3a39" stroke-width="1.500" stroke-linejoin="round"/><path d="M13.500 1.200 V8 H20.500" fill="none" stroke="#3b3a39" stroke-width="1.500" stroke-linejoin="round"/><rect x="6.500" y="14" width="3" height="6" fill="#3b3a39"/><rect x="11" y="16.500" width="3" height="3.500" fill="#3b3a39"/><rect x="15" y="11" width="3" height="9" fill="#3b3a39"/></svg>
  <svg class="vi" style="left:49.7px;top:269.7px" width="24" height="24" viewBox="0 0 24 24"><rect x="3" y="5" width="20" height="15" fill="#ffffff" stroke="#3b3a39" stroke-width="1.4"/><text x="13.500" y="16.500" font-family="Liberation Sans" font-size="10" text-anchor="middle" fill="#3d8fd1">123</text><path d="M6 18.500 H21" stroke="#8cb8de" stroke-width="1.200"/><path d="M7 0.6 l-5.400 9.600 h3.600 l-2.400 6.800 l7.600 -10 h-3.800 l4.200 -6.400 z" fill="#f2a933" stroke="#d98512" stroke-width="0.600" stroke-linejoin="round"/></svg>
  <svg class="vi" style="left:85.6px;top:269.7px" width="24" height="24" viewBox="0 0 24 24"><rect x="12" y="2.5" width="7" height="7" fill="#ffffff" stroke="#8a8886" stroke-width="1.2"/><rect x="3" y="13.5" width="7" height="7" fill="#ffffff" stroke="#8a8886" stroke-width="1.2"/><rect x="5.5" y="6" width="6.5" height="6.5" fill="#3a7fc4" stroke="#3a7fc4" stroke-width="0"/><path d="M11.500 12 H23.500 L19.500 17 V23.500 H15.500 V17 Z" fill="#fff" stroke="#3b3a39" stroke-width="1.500" stroke-linejoin="round"/><path d="M7 0.6 l-5.400 9.600 h3.600 l-2.400 6.800 l7.600 -10 h-3.800 l4.200 -6.400 z" fill="#f2a933" stroke="#d98512" stroke-width="0.600" stroke-linejoin="round"/></svg>
  <svg class="vi" style="left:121.5px;top:269.7px" width="24" height="24" viewBox="0 0 24 24"><rect x="3" y="2.500" width="19" height="19" fill="#3f8bd0" stroke="#2474c4" stroke-width="1.800"/><path d="M21 3.500 C17 4.500 17.500 9 14 10.500 C10.500 12 11.500 16 7 20.500 L4 20.500 L4 17 C8 15 7.500 11 10.500 9.500 C13.500 8 13 5 15 3.500 Z" fill="#dcebf8"/><path d="M0 0" fill="none"/><path d="M2 0.500 H7.500 V6.500 C7.500 9 5.500 9.500 4.800 12.500 C4 9.500 2 9 2 6.500 Z" fill="#e3781c"/><circle cx="4.800" cy="5" r="1.200" fill="#fff"/><circle cx="20.500" cy="21" r="3" fill="#e3781c"/><circle cx="23" cy="14.500" r="1.600" fill="#e3781c"/></svg>
  <svg class="vi" style="left:157.4px;top:269.7px" width="24" height="24" viewBox="0 0 24 24"><g fill="none" stroke="#9b4fb8" stroke-width="1.500" stroke-linejoin="round"><path d="M12 1.500 L22.500 12 L12 22.500 L1.500 12 Z"/><path d="M7 6.500 L17 17.500 M17 6.500 L7 17.500"/><path d="M4.500 15 L9 19.500" stroke-width="1"/></g></svg>
  <svg class="vi" style="left:193.3px;top:269.7px" width="24" height="24" viewBox="0 0 24 24"><g fill="none" stroke="#2b7cd3" stroke-width="1.500" stroke-linejoin="round"><path d="M1.500 3 H16.500 L23.500 12 L16.500 21 H1.500 L9 12 Z"/><path d="M13 12 L6 21 M19.500 7.500 L9 21"/></g></svg>
  <!-- ICONS-END -->

  <!-- dots -->
  <div class="abs" style="left:16.7px;top:314.8px;width:2.2px;height:2.2px;border-radius:50%;background:#323130"></div>
  <div class="abs" style="left:24.9px;top:314.8px;width:2.2px;height:2.2px;border-radius:50%;background:#323130"></div>
  <div class="abs" style="left:33.1px;top:314.8px;width:2.2px;height:2.2px;border-radius:50%;background:#323130"></div>
  <div class="abs" style="left:9px;top:338.5px;width:215px;height:0;border-top:1px dotted #e2e0de"></div>
  <!-- deneb icon -->
  <div class="abs" style="left:11px;top:344.2px;width:31px;height:30.8px;border:1.2px solid #6e6c6a;background:#fbfaf9"></div>
  <svg style="left:14.8px;top:347.8px" width="24" height="23" viewBox="0 0 24 23">
    <defs>
      <linearGradient id="dgA" x1="0" y1="0" x2="1" y2="0"><stop offset="0" stop-color="#f8c30e"/><stop offset="0.45" stop-color="#f7a01e"/><stop offset="0.8" stop-color="#f5852c"/></linearGradient>
      <linearGradient id="dgB" x1="0" y1="0" x2="1" y2="0"><stop offset="0" stop-color="#bf3383"/><stop offset="0.35" stop-color="#e04a5c"/><stop offset="0.75" stop-color="#f5852c" stop-opacity="0"/></linearGradient>
      <linearGradient id="dgC" x1="0" y1="0" x2="0" y2="1"><stop offset="0.3" stop-color="#f6962a" stop-opacity="0.9"/><stop offset="0.75" stop-color="#f8c30e" stop-opacity="0"/></linearGradient>
      <clipPath id="dclip"><path clip-rule="evenodd" d="M0 0 H12.5 A10.7 11.4 0 0 1 12.5 22.8 H0 V11.4 A3.5 3.5 0 0 1 3.5 7.9 H7.1 V5.5 H0 Z M7.1 7.9 V15.8 H14.6 A3.95 3.95 0 0 0 14.6 7.9 Z"/></clipPath>
    </defs>
    <g clip-path="url(#dclip)">
      <rect x="0" y="0" width="24" height="23" fill="url(#dgA)"/>
      <rect x="0" y="6" width="8" height="17" fill="url(#dgC)"/>
      <rect x="0" y="0" width="24" height="7.9" fill="url(#dgB)"/>
    </g>
  </svg>
  <div class="abs" style="left:0;top:383px;width:232px;height:1px;background:#e1dfdd"></div>
  <!-- Values well -->
  <div class="t ui" id="tVals" style="left:16px;top:397px;font-size:15.2px;color:#323130;letter-spacing:-0.42px">Values</div>
  <div class="abs" style="left:7.5px;top:422.5px;width:214.5px;height:101.2px;border:1px dotted #b3b0ad;border-bottom:none;background:#fff"></div>
  <div class="abs pill" style="left:9.3px;top:426px;width:210.5px;height:28px;background:#edebe9;border:1px solid #d2d0ce;border-radius:3px"></div>
  <div class="abs pill" style="left:9.3px;top:456.4px;width:210.5px;height:28px;background:#edebe9;border:1px solid #d2d0ce;border-radius:3px"></div>
  <div class="abs pill" style="left:9.3px;top:486.6px;width:210.5px;height:28px;background:#edebe9;border:1px solid #d2d0ce;border-radius:3px"></div>
  <div class="t ui" id="pDept" style="left:15.5px;top:432px;font-size:15.2px;color:#323130;letter-spacing:0.13px">Department</div>
  <div class="t ui" id="pFore" style="left:15.5px;top:462.4px;font-size:15.2px;color:#323130;letter-spacing:-0.46px">Forecast</div>
  <div class="t ui" id="pAct" style="left:15.5px;top:492.6px;font-size:15.2px;color:#323130;letter-spacing:-0.17px">Actual</div>
  <!-- chevrons + x -->
  <svg style="left:180px;top:434px" width="36" height="12" viewBox="0 0 36 12" fill="none" stroke="#484644" stroke-width="1.05" stroke-linecap="round" stroke-linejoin="round"><path d="M1 2.6 L7.8 9.4 L14.6 2.6"/><path d="M23.4 1 L33.4 11 M33.4 1 L23.4 11"/></svg>
  <svg style="left:180px;top:464.3px" width="36" height="12" viewBox="0 0 36 12" fill="none" stroke="#484644" stroke-width="1.05" stroke-linecap="round" stroke-linejoin="round"><path d="M1 2.6 L7.8 9.4 L14.6 2.6"/><path d="M23.4 1 L33.4 11 M33.4 1 L23.4 11"/></svg>
  <svg style="left:180px;top:494.5px" width="36" height="12" viewBox="0 0 36 12" fill="none" stroke="#484644" stroke-width="1.05" stroke-linecap="round" stroke-linejoin="round"><path d="M1 2.6 L7.8 9.4 L14.6 2.6"/><path d="M23.4 1 L33.4 11 M33.4 1 L23.4 11"/></svg>
  <!-- scrollbar -->
  <div class="abs" style="left:223.8px;top:386.5px;width:6.4px;height:64px;border-radius:3.2px;background:#c8c6c4"></div>
</div>
<div class="abs" style="left:1335px;top:0;width:1px;height:533px;background:#e6e4e2"></div>

<!-- ===== FIELDS PANE ===== -->
<div id="fields" class="abs" style="left:1336px;top:0;width:200px;height:533px;background:#f3f2f1;overflow:hidden">
  <!-- coords relative: subtract 1336 -->
  <svg style="left:15px;top:22px" width="16" height="10" viewBox="0 0 16 10" fill="none" stroke="#484644" stroke-width="1.2" stroke-linecap="round" stroke-linejoin="round"><path d="M1 1.2 L7.8 8.4 L14.6 1.2"/></svg>
  <svg style="left:35.5px;top:18.5px" width="17" height="16" viewBox="0 0 17 16" fill="none" stroke="#292827" stroke-width="1.3"><rect x="0.8" y="0.8" width="15" height="14" rx="2.6"/><path d="M0.8 5.4 H15.8 M0.8 10.2 H15.8 M5.8 0.8 V14.8 M10.8 0.8 V14.8"/></svg>
  <div class="abs" style="left:44px;top:27px;width:15.2px;height:15.2px;border-radius:50%;background:#148068"></div>
  <svg style="left:47.6px;top:31px" width="9" height="8" viewBox="0 0 9 8" fill="none" stroke="#fff" stroke-width="1.5" stroke-linecap="round" stroke-linejoin="round"><path d="M1.2 4 L3.4 6.2 L7.6 1.6"/></svg>
  <div class="t ui" id="fSheet" style="left:59.5px;top:18.9px;font-size:15.2px;color:#252423;letter-spacing:-0.7px">Sheet1</div>
  <!-- rows -->
  <div class="abs cb" style="left:54.9px;top:49.8px;width:15px;height:14.8px;border-radius:2px;background:#148068"></div>
  <svg style="left:57.5px;top:53px" width="11" height="9" viewBox="0 0 11 9" fill="none" stroke="#fff" stroke-width="1.5" stroke-linecap="round" stroke-linejoin="round"><path d="M1.2 4.6 L4 7.4 L9.6 1.4"/></svg>
  <div class="abs cb" style="left:54.9px;top:80.3px;width:15px;height:14.8px;border-radius:2px;background:#148068"></div>
  <svg style="left:57.5px;top:83.5px" width="11" height="9" viewBox="0 0 11 9" fill="none" stroke="#fff" stroke-width="1.5" stroke-linecap="round" stroke-linejoin="round"><path d="M1.2 4.6 L4 7.4 L9.6 1.4"/></svg>
  <div class="abs cb" style="left:54.9px;top:110.8px;width:15px;height:14.8px;border-radius:2px;background:#148068"></div>
  <svg style="left:57.5px;top:114px" width="11" height="9" viewBox="0 0 11 9" fill="none" stroke="#fff" stroke-width="1.5" stroke-linecap="round" stroke-linejoin="round"><path d="M1.2 4.6 L4 7.4 L9.6 1.4"/></svg>
  <div class="abs cb" style="left:54.9px;top:141.3px;width:15px;height:14.8px;border-radius:2.4px;background:#fbfbfa;border:1px solid #bdbbb9"></div>
  <!-- sigma -->
  <svg class="sg" style="left:80.5px;top:49.5px" width="15" height="16" viewBox="0 0 15 16" fill="none" stroke="#323130" stroke-width="1.2" stroke-linejoin="miter"><path d="M13.6 3.4 V1 H1.6 L8.2 8 L1.6 15 H13.6 V12.6"/></svg>
  <svg class="sg" style="left:80.5px;top:110.5px" width="15" height="16" viewBox="0 0 15 16" fill="none" stroke="#323130" stroke-width="1.2" stroke-linejoin="miter"><path d="M13.6 3.4 V1 H1.6 L8.2 8 L1.6 15 H13.6 V12.6"/></svg>
  <svg class="sg" style="left:80.5px;top:141px" width="15" height="16" viewBox="0 0 15 16" fill="none" stroke="#323130" stroke-width="1.2" stroke-linejoin="miter"><path d="M13.6 3.4 V1 H1.6 L8.2 8 L1.6 15 H13.6 V12.6"/></svg>
  <div class="t ui" id="fAct" style="left:104px;top:50px;font-size:15.2px;color:#323130;letter-spacing:-0.15px">Actual</div>
  <div class="t ui" id="fDept" style="left:104px;top:80.5px;font-size:15.2px;color:#323130;letter-spacing:0.18px">Department</div>
  <div class="t ui" id="fFore" style="left:104px;top:111px;font-size:15.2px;color:#323130;letter-spacing:-0.31px">Forecast</div>
  <div class="t ui" id="fCopy" style="left:104px;top:141.5px;font-size:15.2px;color:#323130;letter-spacing:-0.31px;word-spacing:0.9px">Forecast - Copy</div>
</div>

</div>
</body>
</html>
